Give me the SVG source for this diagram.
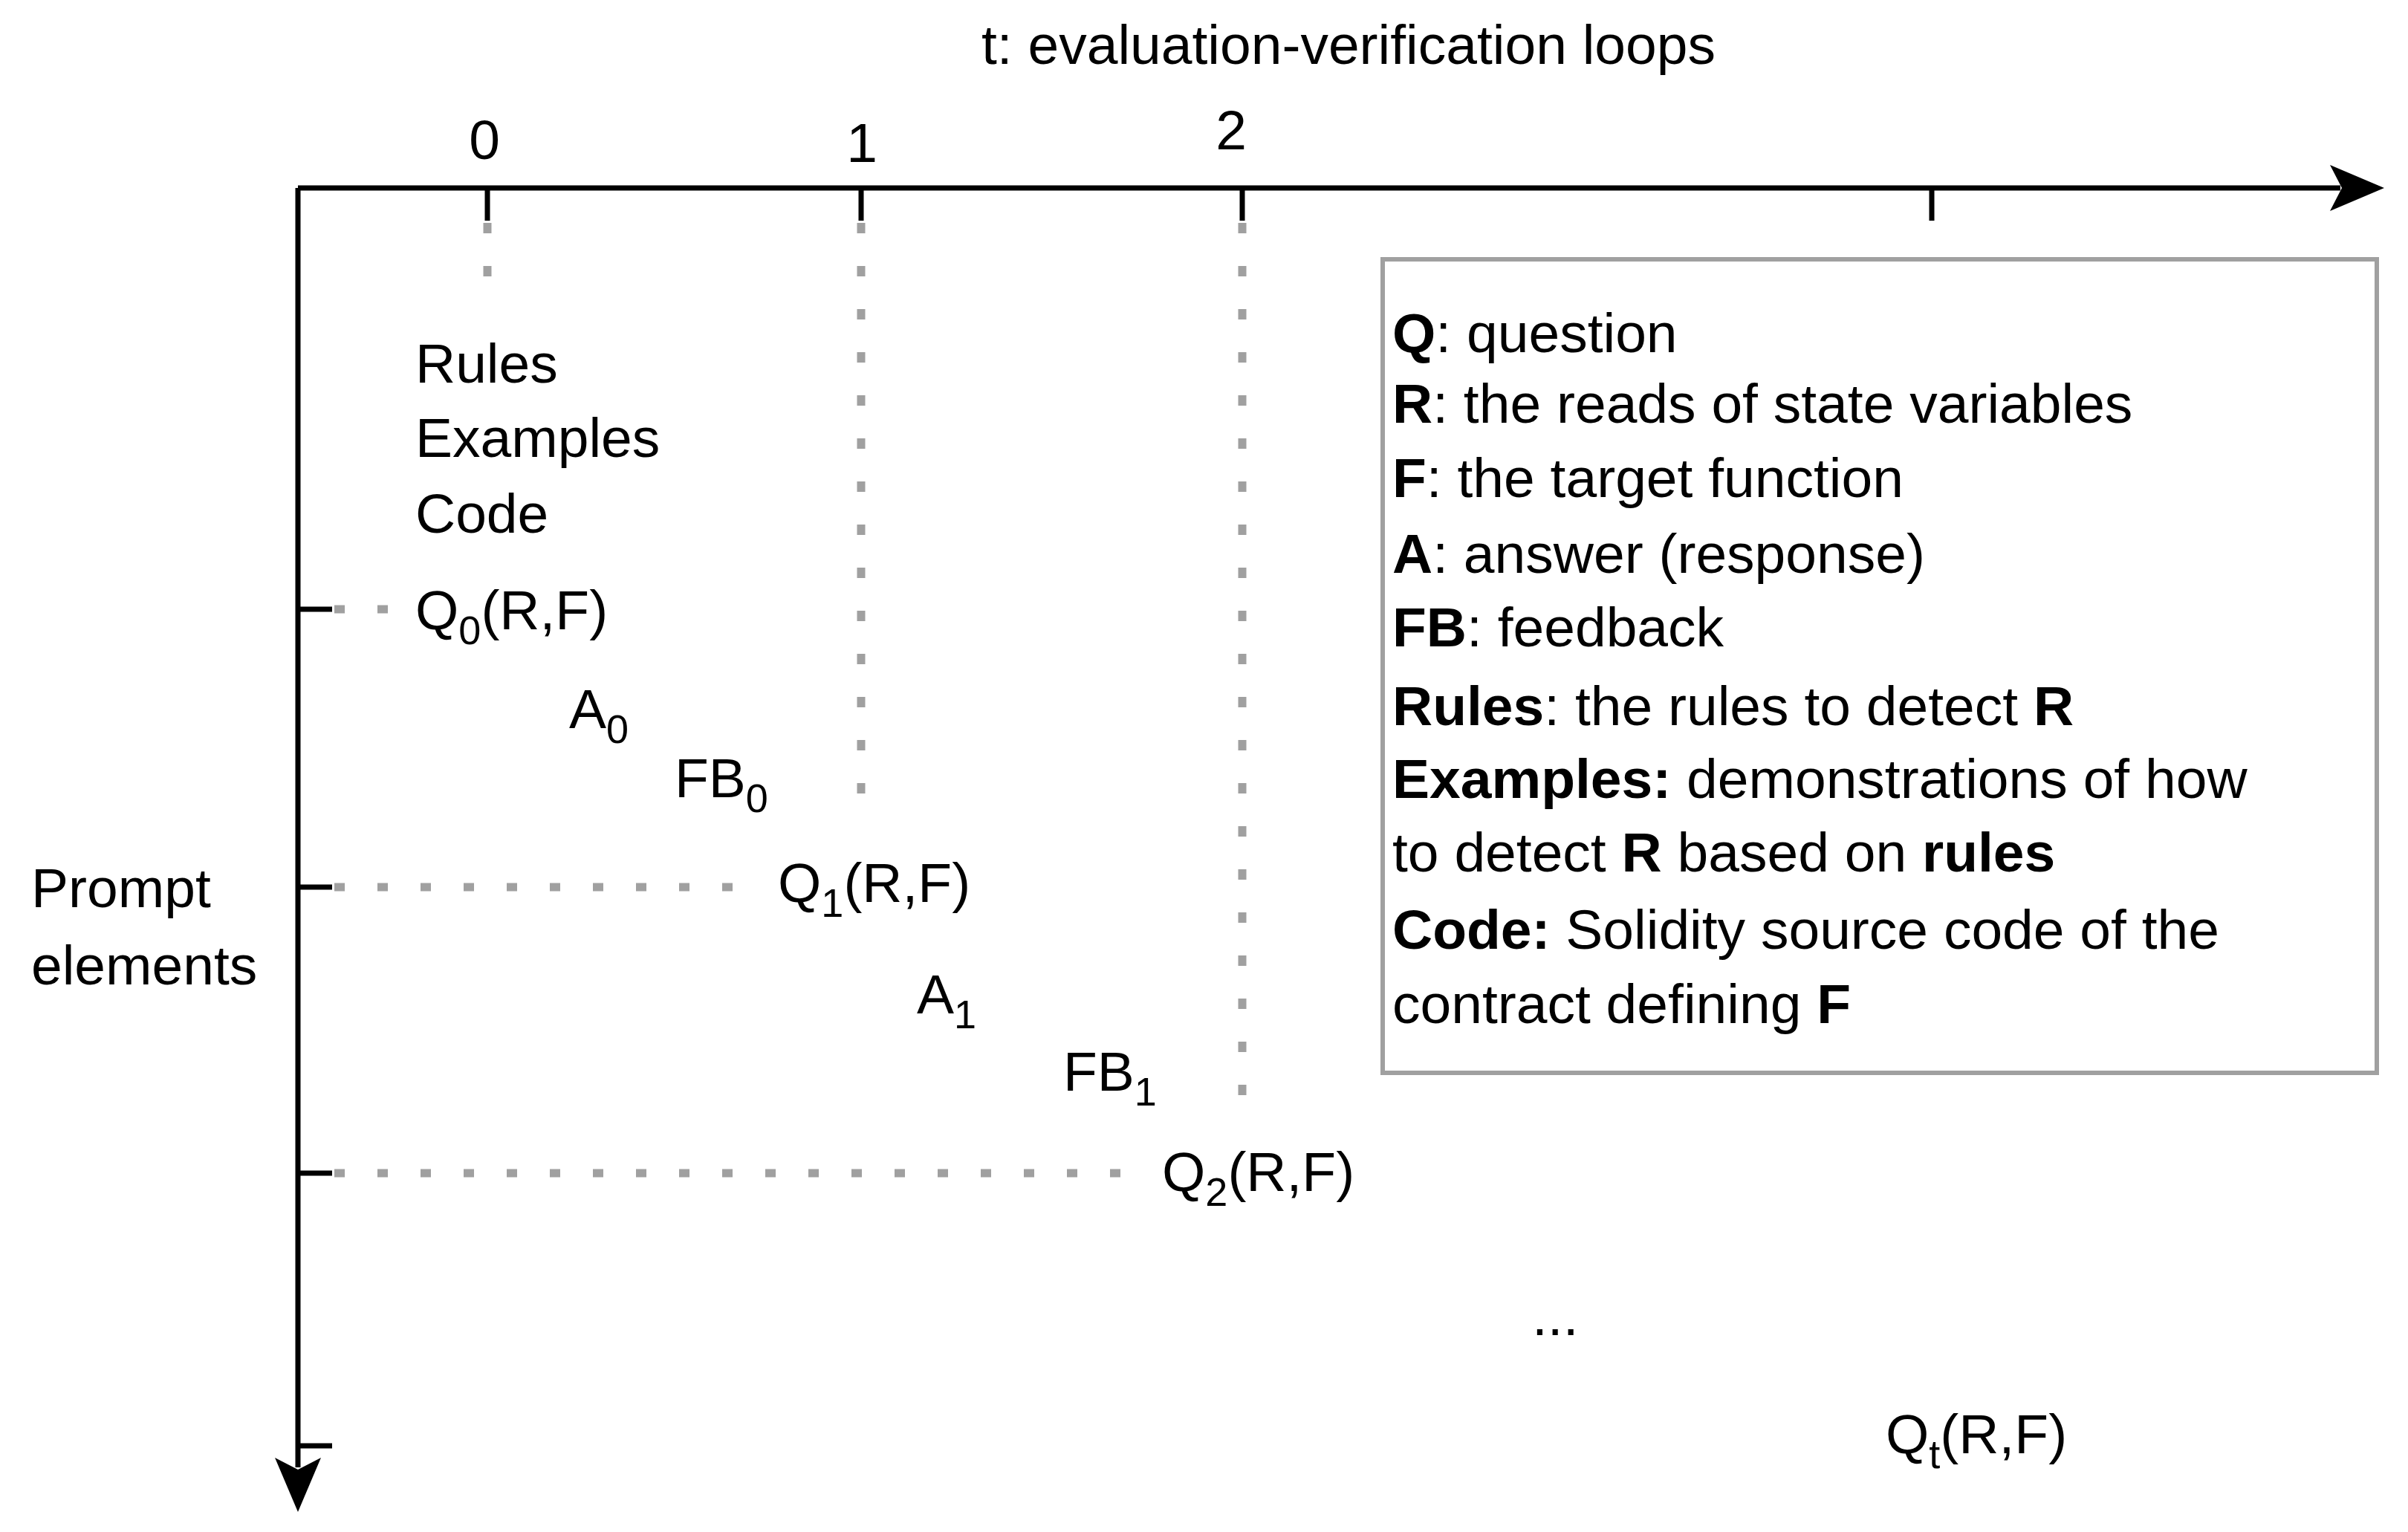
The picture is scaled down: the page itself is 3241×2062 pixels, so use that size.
<svg xmlns="http://www.w3.org/2000/svg" width="3241" height="2062" viewBox="0 0 3241 2062">
<style>
text{font-family:"Liberation Sans",Arial,sans-serif;font-size:75px;fill:#000}
.b{font-weight:bold}
.s{font-size:54px}
.ax{stroke:#000;stroke-width:7;fill:none}
.dot{stroke:#a0a0a0;stroke-width:11;stroke-dasharray:14 44;fill:none}
</style>
<defs>
<marker id="ar" viewBox="0 0 20 20" refX="18" refY="10" markerWidth="10" markerHeight="10" markerUnits="userSpaceOnUse" orient="auto"><path d="M0,0 L20,10 L0,20 L6,10 Z" fill="#000"/></marker>
</defs>
<rect width="3241" height="2062" fill="#fff"/>
<g id="connectors">
<path class="dot" d="M656,300 V380 M1159,300 V1085 M1672,300 V1480 M450,820 H522 M450,1194 H1020 M450,1579 H1530"/>
<path class="ax" d="M401,253 H3150"/>
<path d="M3209,253 L3136,222 L3152,253 L3136,284 Z" fill="#000"/>
<path class="ax" d="M401,253 V1975"/>
<path d="M401,2035 L370,1962 L401,1978 L432,1962 Z" fill="#000"/>
<path class="ax" d="M656,253 V297 M1159,253 V297 M1672,253 V297 M2600,253 V297 M401,820 H447 M401,1194 H447 M401,1579 H447 M401,1946 H447"/>
</g>
<g id="axis-labels">
<text x="1815" y="86" text-anchor="middle">t: evaluation-verification loops</text>
<text x="652" y="214" text-anchor="middle">0</text>
<text x="1160" y="218" text-anchor="middle">1</text>
<text x="1657" y="201" text-anchor="middle">2</text>
<text x="42" y="1221">Prompt</text>
<text x="42" y="1325">elements</text>
</g>
<g id="elements">
<text x="559" y="515">Rules</text>
<text x="559" y="615">Examples</text>
<text x="559" y="717">Code</text>
<text x="559" y="847">Q<tspan class="s" dy="20">0</tspan><tspan dy="-20">(R,F)</tspan></text>
<text x="766" y="980">A<tspan class="s" dy="20">0</tspan></text>
<text x="908" y="1073">FB<tspan class="s" dy="20">0</tspan></text>
<text x="1047" y="1214">Q<tspan class="s" dy="20">1</tspan><tspan dy="-20">(R,F)</tspan></text>
<text x="1234" y="1364">A<tspan class="s" dy="20">1</tspan></text>
<text x="1431" y="1468">FB<tspan class="s" dy="20">1</tspan></text>
<text x="1564" y="1603">Q<tspan class="s" dy="20">2</tspan><tspan dy="-20">(R,F)</tspan></text>
<text x="2062" y="1797">...</text>
<text x="2538" y="1956">Q<tspan class="s" dy="20">t</tspan><tspan dy="-20">(R,F)</tspan></text>
</g>
<g id="legend">
<rect x="1861" y="349" width="1338" height="1095" fill="#fff" stroke="#a0a0a0" stroke-width="6"/>
<text x="1874" y="474"><tspan class="b">Q</tspan>: question</text>
<text x="1874" y="569"><tspan class="b">R</tspan>: the reads of state variables</text>
<text x="1874" y="669"><tspan class="b">F</tspan>: the target function</text>
<text x="1874" y="771"><tspan class="b">A</tspan>: answer (response)</text>
<text x="1874" y="870"><tspan class="b">FB</tspan>: feedback</text>
<text x="1874" y="976"><tspan class="b">Rules</tspan>: the rules to detect <tspan class="b">R</tspan></text>
<text x="1874" y="1074"><tspan class="b">Examples:</tspan> demonstrations of how</text>
<text x="1874" y="1173">to detect <tspan class="b">R</tspan> based on <tspan class="b">rules</tspan></text>
<text x="1874" y="1277"><tspan class="b">Code:</tspan> Solidity source code of the</text>
<text x="1874" y="1377">contract defining <tspan class="b">F</tspan></text>
</g>
</svg>
